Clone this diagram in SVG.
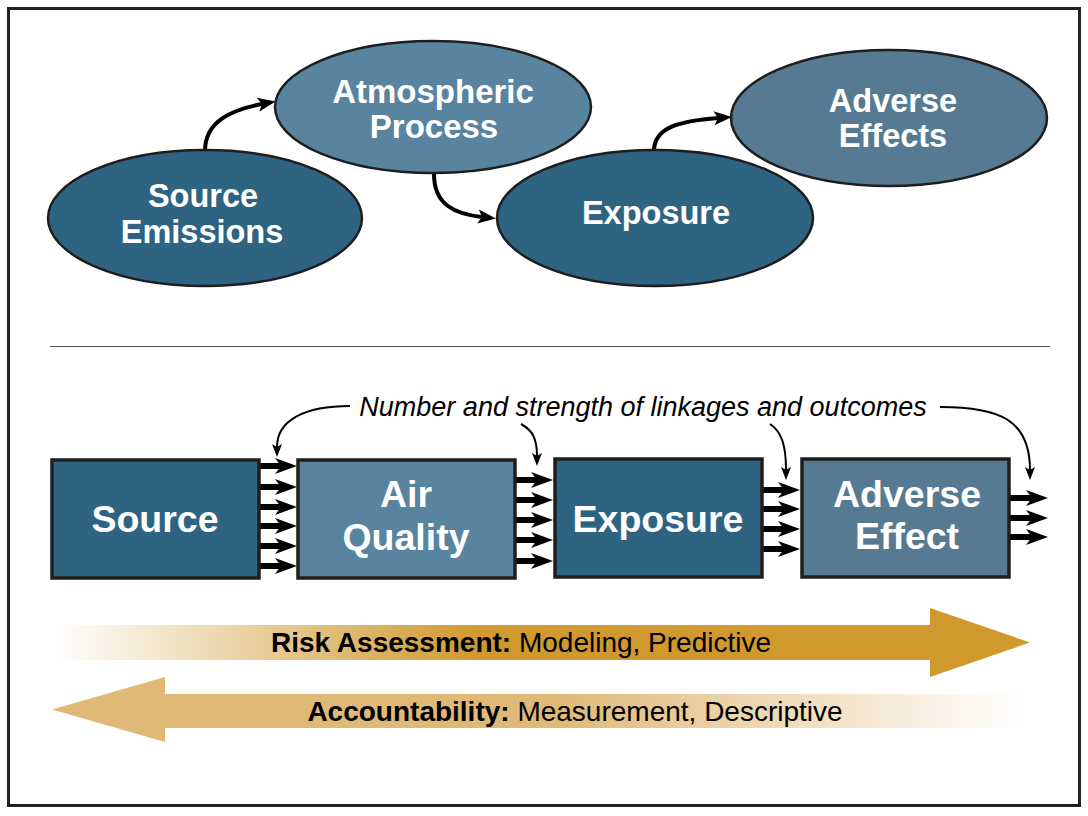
<svg xmlns="http://www.w3.org/2000/svg" width="1088" height="816" viewBox="0 0 1088 816">
<style>
.el{stroke:#1e1e1e;stroke-width:2.5}
.box{stroke:#1e1e1e;stroke-width:3.5}
.dark{fill:#2e6482}
.light{fill:#5984a0}
.mid{fill:#577a93}
.lbl{font-family:"Liberation Sans",Arial,sans-serif;font-weight:bold;fill:#fff;text-anchor:middle}
.conn{fill:none;stroke:#000;stroke-width:4}
.call{fill:none;stroke:#000;stroke-width:2}
.flow{stroke:#000;stroke-width:6}
.cap{font-family:"Liberation Sans",Arial,sans-serif;font-size:28px;fill:#000;text-anchor:middle}
</style>
<defs>
<marker id="mFlow" viewBox="-6 -9 22 18" markerWidth="22" markerHeight="18" refX="0" refY="0" orient="auto" markerUnits="userSpaceOnUse">
<path d="M16,0 L-6,-8 L0,0 L-6,8 Z" fill="#000"/>
</marker>
<marker id="mConn" viewBox="-5 -8 20 16" markerWidth="20" markerHeight="16" refX="0" refY="0" orient="auto" markerUnits="userSpaceOnUse">
<path d="M14,0 L-4,-7 L0,0 L-4,7 Z" fill="#000"/>
</marker>
<marker id="mCall" viewBox="-4 -6 15 12" markerWidth="15" markerHeight="12" refX="0" refY="0" orient="auto" markerUnits="userSpaceOnUse">
<path d="M10,0 L-3,-5 L0,0 L-3,5 Z" fill="#000"/>
</marker>
<linearGradient id="gRisk" gradientUnits="userSpaceOnUse" x1="55" y1="0" x2="480" y2="0">
<stop offset="0" stop-color="#cf992e" stop-opacity="0"/>
<stop offset="1" stop-color="#cf992e"/>
</linearGradient>
<linearGradient id="gAcc" gradientUnits="userSpaceOnUse" x1="560" y1="0" x2="1020" y2="0">
<stop offset="0" stop-color="#e0b977"/>
<stop offset="1" stop-color="#e0b977" stop-opacity="0"/>
</linearGradient>
</defs>
<rect x="0" y="0" width="1088" height="816" fill="#fff"/>
<rect x="8.5" y="8.5" width="1071" height="797" fill="none" stroke="#222" stroke-width="3"/>

<g id="connectors">
<path class="conn" d="M205,151 C205,122 230,110 262,104" marker-end="url(#mConn)"/>
<path class="conn" d="M434,174 C434,205 455,214 482,217" marker-end="url(#mConn)"/>
<path class="conn" d="M654,151 C654,127 680,121 718,118" marker-end="url(#mConn)"/>

<path class="call" d="M350,406 C305,406 277,420 277,447" marker-end="url(#mCall)"/>
<path class="call" d="M521,424 C532,430 537,438 537,456" marker-end="url(#mCall)"/>
<path class="call" d="M770,424 C782,432 786,446 786,470" marker-end="url(#mCall)"/>
<path class="call" d="M940,407 C1000,407 1030,420 1030,470" marker-end="url(#mCall)"/>

<g id="flow-source-air">
<line class="flow" x1="260" y1="466" x2="281" y2="466" marker-end="url(#mFlow)"/>
<line class="flow" x1="260" y1="487" x2="281" y2="487" marker-end="url(#mFlow)"/>
<line class="flow" x1="260" y1="507" x2="281" y2="507" marker-end="url(#mFlow)"/>
<line class="flow" x1="260" y1="526" x2="281" y2="526" marker-end="url(#mFlow)"/>
<line class="flow" x1="260" y1="546" x2="281" y2="546" marker-end="url(#mFlow)"/>
<line class="flow" x1="260" y1="566" x2="281" y2="566" marker-end="url(#mFlow)"/>
</g>
<g id="flow-air-exposure">
<line class="flow" x1="516" y1="480" x2="537" y2="480" marker-end="url(#mFlow)"/>
<line class="flow" x1="516" y1="500" x2="537" y2="500" marker-end="url(#mFlow)"/>
<line class="flow" x1="516" y1="520" x2="537" y2="520" marker-end="url(#mFlow)"/>
<line class="flow" x1="516" y1="540" x2="537" y2="540" marker-end="url(#mFlow)"/>
<line class="flow" x1="516" y1="561" x2="537" y2="561" marker-end="url(#mFlow)"/>
</g>
<g id="flow-exposure-adverse">
<line class="flow" x1="763" y1="490" x2="784" y2="490" marker-end="url(#mFlow)"/>
<line class="flow" x1="763" y1="509" x2="784" y2="509" marker-end="url(#mFlow)"/>
<line class="flow" x1="763" y1="529" x2="784" y2="529" marker-end="url(#mFlow)"/>
<line class="flow" x1="763" y1="549" x2="784" y2="549" marker-end="url(#mFlow)"/>
</g>
<g id="flow-adverse-out">
<line class="flow" x1="1010" y1="498" x2="1032" y2="498" marker-end="url(#mFlow)"/>
<line class="flow" x1="1010" y1="518" x2="1032" y2="518" marker-end="url(#mFlow)"/>
<line class="flow" x1="1010" y1="537" x2="1032" y2="537" marker-end="url(#mFlow)"/>
</g>
</g>

<g id="node-source-emissions">
<ellipse class="el dark" cx="205" cy="218" rx="157" ry="68"/>
<text class="lbl" font-size="32.5" x="203" y="207">Source</text>
<text class="lbl" font-size="32.5" x="202" y="243">Emissions</text>
</g>
<g id="node-atmospheric-process">
<ellipse class="el light" cx="433" cy="107" rx="158" ry="66"/>
<text class="lbl" font-size="33" x="433" y="103">Atmospheric</text>
<text class="lbl" font-size="33" x="434" y="138">Process</text>
</g>
<g id="node-exposure">
<ellipse class="el dark" cx="655" cy="218" rx="158" ry="68"/>
<text class="lbl" font-size="32.5" x="656" y="224">Exposure</text>
</g>
<g id="node-adverse-effects">
<ellipse class="el mid" cx="889" cy="118" rx="158" ry="68"/>
<text class="lbl" font-size="32.5" x="893" y="112">Adverse</text>
<text class="lbl" font-size="32.5" x="893" y="147">Effects</text>
</g>

<line x1="50" y1="346.5" x2="1050" y2="346.5" stroke="#555" stroke-width="1"/>

<text id="callout" font-family="'Liberation Sans',Arial,sans-serif" font-style="italic" font-size="27" x="643" y="416" text-anchor="middle" fill="#000">Number and strength of linkages and outcomes</text>

<g id="box-source">
<rect class="box dark" x="52" y="460" width="207" height="118"/>
<text class="lbl" font-size="37.5" x="155" y="532">Source</text>
</g>
<g id="box-air-quality">
<rect class="box light" x="298" y="460" width="217" height="118"/>
<text class="lbl" font-size="37.5" x="406" y="507">Air</text>
<text class="lbl" font-size="37.5" x="406" y="550">Quality</text>
</g>
<g id="box-exposure">
<rect class="box dark" x="555" y="459" width="207" height="118"/>
<text class="lbl" font-size="37.5" x="658" y="532">Exposure</text>
</g>
<g id="box-adverse-effect">
<rect class="box mid" x="802" y="459" width="207" height="118"/>
<text class="lbl" font-size="37.5" x="907" y="507">Adverse</text>
<text class="lbl" font-size="37.5" x="907" y="549">Effect</text>
</g>

<g id="arrow-risk">
<path d="M55,625 L930,625 L930,608 L1030,642.5 L930,677 L930,660 L55,660 Z" fill="url(#gRisk)"/>
<text class="cap" x="521" y="652"><tspan font-weight="bold">Risk Assessment:</tspan> Modeling, Predictive</text>
</g>
<g id="arrow-accountability">
<path d="M1020,694 L165,694 L165,677 L52,709.5 L165,742 L165,728 L1020,728 Z" fill="url(#gAcc)"/>
<text class="cap" x="575" y="721"><tspan font-weight="bold">Accountability:</tspan> Measurement, Descriptive</text>
</g>
</svg>
